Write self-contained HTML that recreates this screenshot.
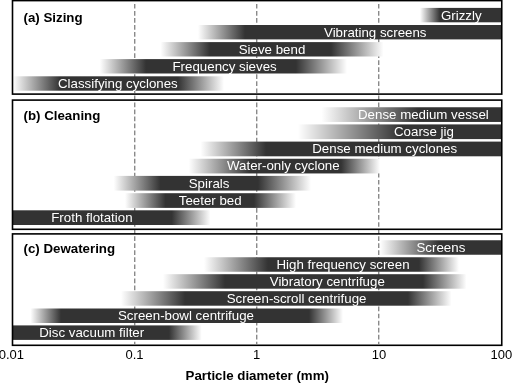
<!DOCTYPE html>
<html><head><meta charset="utf-8"><title>Particle diameter chart</title>
<style>
html,body{margin:0;padding:0;background:#fff;}
body{width:512px;height:383px;overflow:hidden;position:relative;}
svg{display:block;position:absolute;left:0;top:0;}
text{font-family:"Liberation Sans",Arial,Helvetica,sans-serif;font-size:13.3px;}
.lab{fill:#fff;}
.hd{font-weight:bold;fill:#000;font-size:13.3px;}
.ax{fill:#000;}
</style></head><body>
<svg width="512" height="383" viewBox="0 0 512 383">
<defs>
<linearGradient id="g0" gradientUnits="userSpaceOnUse" x1="420.00" y1="0" x2="503.00" y2="0"><stop offset="0.0000" stop-color="#ffffff"/><stop offset="0.2410" stop-color="#333333"/><stop offset="1.0000" stop-color="#333333"/></linearGradient>
<linearGradient id="g1" gradientUnits="userSpaceOnUse" x1="198.00" y1="0" x2="503.00" y2="0"><stop offset="0.0000" stop-color="#ffffff"/><stop offset="0.1541" stop-color="#333333"/><stop offset="1.0000" stop-color="#333333"/></linearGradient>
<linearGradient id="g2" gradientUnits="userSpaceOnUse" x1="160.50" y1="0" x2="383.50" y2="0"><stop offset="0.0000" stop-color="#ffffff"/><stop offset="0.2220" stop-color="#333333"/><stop offset="0.7646" stop-color="#333333"/><stop offset="1.0000" stop-color="#ffffff"/></linearGradient>
<linearGradient id="g3" gradientUnits="userSpaceOnUse" x1="99.75" y1="0" x2="347.00" y2="0"><stop offset="0.0000" stop-color="#ffffff"/><stop offset="0.1871" stop-color="#333333"/><stop offset="0.7937" stop-color="#333333"/><stop offset="1.0000" stop-color="#ffffff"/></linearGradient>
<linearGradient id="g4" gradientUnits="userSpaceOnUse" x1="13.00" y1="0" x2="224.00" y2="0"><stop offset="0.0000" stop-color="#ffffff"/><stop offset="0.2227" stop-color="#333333"/><stop offset="0.7820" stop-color="#333333"/><stop offset="1.0000" stop-color="#ffffff"/></linearGradient>
<linearGradient id="g5" gradientUnits="userSpaceOnUse" x1="321.50" y1="0" x2="503.00" y2="0"><stop offset="0.0000" stop-color="#ffffff"/><stop offset="0.5317" stop-color="#333333"/><stop offset="1.0000" stop-color="#333333"/></linearGradient>
<linearGradient id="g6" gradientUnits="userSpaceOnUse" x1="298.00" y1="0" x2="503.00" y2="0"><stop offset="0.0000" stop-color="#ffffff"/><stop offset="0.4976" stop-color="#333333"/><stop offset="1.0000" stop-color="#333333"/></linearGradient>
<linearGradient id="g7" gradientUnits="userSpaceOnUse" x1="200.50" y1="0" x2="503.00" y2="0"><stop offset="0.0000" stop-color="#ffffff"/><stop offset="0.2165" stop-color="#333333"/><stop offset="1.0000" stop-color="#333333"/></linearGradient>
<linearGradient id="g8" gradientUnits="userSpaceOnUse" x1="188.75" y1="0" x2="380.00" y2="0"><stop offset="0.0000" stop-color="#ffffff"/><stop offset="0.3203" stop-color="#333333"/><stop offset="0.7961" stop-color="#333333"/><stop offset="1.0000" stop-color="#ffffff"/></linearGradient>
<linearGradient id="g9" gradientUnits="userSpaceOnUse" x1="113.75" y1="0" x2="311.00" y2="0"><stop offset="0.0000" stop-color="#ffffff"/><stop offset="0.2370" stop-color="#333333"/><stop offset="0.7313" stop-color="#333333"/><stop offset="1.0000" stop-color="#ffffff"/></linearGradient>
<linearGradient id="g10" gradientUnits="userSpaceOnUse" x1="125.00" y1="0" x2="296.00" y2="0"><stop offset="0.0000" stop-color="#ffffff"/><stop offset="0.2368" stop-color="#333333"/><stop offset="0.7544" stop-color="#333333"/><stop offset="1.0000" stop-color="#ffffff"/></linearGradient>
<linearGradient id="g11" gradientUnits="userSpaceOnUse" x1="12.00" y1="0" x2="210.50" y2="0"><stop offset="0.0000" stop-color="#333333"/><stop offset="0.8048" stop-color="#333333"/><stop offset="1.0000" stop-color="#ffffff"/></linearGradient>
<linearGradient id="g12" gradientUnits="userSpaceOnUse" x1="380.00" y1="0" x2="503.00" y2="0"><stop offset="0.0000" stop-color="#ffffff"/><stop offset="0.4797" stop-color="#333333"/><stop offset="1.0000" stop-color="#333333"/></linearGradient>
<linearGradient id="g13" gradientUnits="userSpaceOnUse" x1="204.00" y1="0" x2="459.00" y2="0"><stop offset="0.0000" stop-color="#ffffff"/><stop offset="0.2510" stop-color="#333333"/><stop offset="0.8431" stop-color="#333333"/><stop offset="1.0000" stop-color="#ffffff"/></linearGradient>
<linearGradient id="g14" gradientUnits="userSpaceOnUse" x1="163.00" y1="0" x2="466.50" y2="0"><stop offset="0.0000" stop-color="#ffffff"/><stop offset="0.2043" stop-color="#333333"/><stop offset="0.8567" stop-color="#333333"/><stop offset="1.0000" stop-color="#ffffff"/></linearGradient>
<linearGradient id="g15" gradientUnits="userSpaceOnUse" x1="121.00" y1="0" x2="451.50" y2="0"><stop offset="0.0000" stop-color="#ffffff"/><stop offset="0.1936" stop-color="#333333"/><stop offset="0.8684" stop-color="#333333"/><stop offset="1.0000" stop-color="#ffffff"/></linearGradient>
<linearGradient id="g16" gradientUnits="userSpaceOnUse" x1="30.50" y1="0" x2="343.00" y2="0"><stop offset="0.0000" stop-color="#ffffff"/><stop offset="0.0976" stop-color="#333333"/><stop offset="0.8912" stop-color="#333333"/><stop offset="1.0000" stop-color="#ffffff"/></linearGradient>
<linearGradient id="g17" gradientUnits="userSpaceOnUse" x1="12.00" y1="0" x2="201.75" y2="0"><stop offset="0.0000" stop-color="#333333"/><stop offset="0.8274" stop-color="#333333"/><stop offset="1.0000" stop-color="#ffffff"/></linearGradient>
</defs>
<rect x="0" y="0" width="512" height="383" fill="#fff"/>
<line x1="134.75" y1="3.9" x2="134.75" y2="344" stroke="#777" stroke-width="1.2" stroke-dasharray="4.7 2.34"/>
<line x1="256.75" y1="3.9" x2="256.75" y2="344" stroke="#777" stroke-width="1.2" stroke-dasharray="4.7 2.34"/>
<line x1="378.75" y1="3.9" x2="378.75" y2="344" stroke="#777" stroke-width="1.2" stroke-dasharray="4.7 2.34"/>
<rect x="420.00" y="7.90" width="81.00" height="14.40" fill="url(#g0)"/>
<rect x="198.00" y="25.00" width="303.00" height="14.40" fill="url(#g1)"/>
<rect x="160.50" y="42.10" width="223.00" height="14.40" fill="url(#g2)"/>
<rect x="99.75" y="59.10" width="247.25" height="14.40" fill="url(#g3)"/>
<rect x="13.00" y="76.30" width="211.00" height="14.40" fill="url(#g4)"/>
<rect x="321.50" y="107.25" width="179.50" height="14.70" fill="url(#g5)"/>
<rect x="298.00" y="124.40" width="203.00" height="14.70" fill="url(#g6)"/>
<rect x="200.50" y="141.60" width="300.50" height="14.70" fill="url(#g7)"/>
<rect x="188.75" y="158.75" width="191.25" height="14.70" fill="url(#g8)"/>
<rect x="113.75" y="175.90" width="197.25" height="14.70" fill="url(#g9)"/>
<rect x="125.00" y="193.20" width="171.00" height="14.70" fill="url(#g10)"/>
<rect x="12.00" y="210.30" width="198.50" height="14.70" fill="url(#g11)"/>
<rect x="380.00" y="240.25" width="121.00" height="14.50" fill="url(#g12)"/>
<rect x="204.00" y="257.25" width="255.00" height="14.50" fill="url(#g13)"/>
<rect x="163.00" y="274.20" width="303.50" height="14.50" fill="url(#g14)"/>
<rect x="121.00" y="291.20" width="330.50" height="14.50" fill="url(#g15)"/>
<rect x="30.50" y="308.50" width="312.50" height="14.50" fill="url(#g16)"/>
<rect x="12.00" y="325.40" width="189.75" height="14.50" fill="url(#g17)"/>
<rect x="12.5" y="0.60" width="489.25" height="93.50" fill="none" stroke="#000" stroke-width="1.6"/>
<rect x="12.5" y="100.10" width="489.25" height="129.20" fill="none" stroke="#000" stroke-width="1.6"/>
<rect x="12.5" y="233.90" width="489.25" height="111.40" fill="none" stroke="#000" stroke-width="1.6"/>
<text class="lab" x="441.00" y="19.50">Grizzly</text>
<text class="lab" x="324.00" y="36.60">Vibrating screens</text>
<text class="lab" x="238.75" y="53.70">Sieve bend</text>
<text class="lab" x="172.50" y="70.70">Frequency sieves</text>
<text class="lab" x="58.00" y="87.90">Classifying cyclones</text>
<text class="lab" x="358.00" y="118.85">Dense medium vessel</text>
<text class="lab" x="394.00" y="136.00">Coarse jig</text>
<text class="lab" x="312.25" y="153.20">Dense medium cyclones</text>
<text class="lab" x="227.00" y="170.35">Water-only cyclone</text>
<text class="lab" x="188.75" y="187.50">Spirals</text>
<text class="lab" x="178.75" y="204.80">Teeter bed</text>
<text class="lab" x="51.25" y="221.90">Froth flotation</text>
<text class="lab" x="416.50" y="251.85">Screens</text>
<text class="lab" x="276.50" y="268.85">High frequency screen</text>
<text class="lab" x="269.75" y="285.80">Vibratory centrifuge</text>
<text class="lab" x="226.75" y="302.80">Screen-scroll centrifuge</text>
<text class="lab" x="118.00" y="320.10">Screen-bowl centrifuge</text>
<text class="lab" x="39.25" y="337.00">Disc vacuum filter</text>
<text class="hd" x="23.5" y="22">(a) Sizing</text>
<text class="hd" x="23.5" y="120.25">(b) Cleaning</text>
<text class="hd" x="23.5" y="253">(c) Dewatering</text>
<text class="ax" text-anchor="middle" x="11.40" y="358.9" style="font-size:13px">0.01</text>
<text class="ax" text-anchor="middle" x="134.50" y="358.9" style="font-size:13px">0.1</text>
<text class="ax" text-anchor="middle" x="256.50" y="358.9" style="font-size:13px">1</text>
<text class="ax" text-anchor="middle" x="379.10" y="358.9" style="font-size:13px">10</text>
<text class="ax" text-anchor="middle" x="501.30" y="358.9" style="font-size:13px">100</text>
<text class="hd" text-anchor="middle" x="257.25" y="379.7">Particle diameter (mm)</text>
</svg></body></html>
